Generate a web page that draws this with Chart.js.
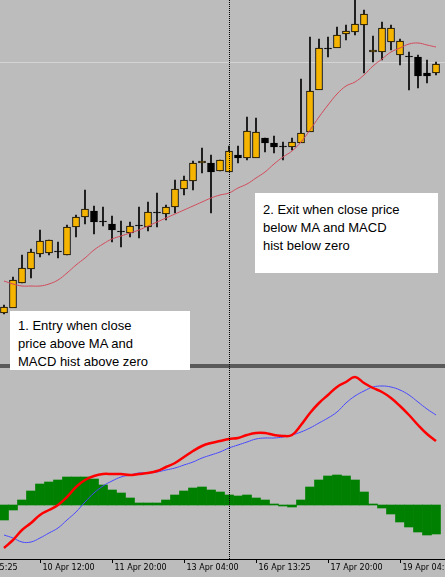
<!DOCTYPE html>
<html><head><meta charset="utf-8">
<script src="https://cdn.jsdelivr.net/npm/chart.js@4/dist/chart.umd.min.js"></script>
<style>
html,body{margin:0;padding:0;background:#bcbcbc;width:445px;height:579px;overflow:hidden;position:relative;font-family:"Liberation Sans",Arial,sans-serif}
#c1{position:absolute;left:0;top:0}
#c2{position:absolute;left:0;top:368px}
.sep{position:absolute;left:0;top:364px;width:445px;height:4px;background:#5a5a5a}
.hl{position:absolute;left:0;top:62px;width:445px;height:1px;background:#d4d4d4}
.vl{position:absolute;left:229px;top:0;height:559px;border-left:1px dotted #000}
.box{position:absolute;background:#fff;font-size:13px;line-height:18px;color:#000;padding:6px 8px;box-sizing:border-box}
</style></head><body>
<div class="hl"></div>
<canvas id="c1" width="445" height="364"></canvas>
<div class="sep"></div>
<canvas id="c2" width="445" height="211"></canvas>
<div class="vl"></div>
<div class="box" style="left:10px;top:311px;width:180px;height:59px;">1. Entry when close<br>price above MA and<br>MACD hist above zero</div>
<div class="box" style="left:255px;top:193px;width:183px;height:80px;padding-top:8px">2. Exit when close price<br>below MA and MACD<br>hist below zero</div>
<script>
// price values (arbitrary units)
const opens  = [87,92,117,131,146,147,148,145,173,183,189,178,176,168,167,174,173,187,186,193,211,219,237,237,229,228,245,242,242,262,257,253,253,257,268,310,351,352,366,368,375,348,348,358,345,343,343,327,327];
const closes = [93,120,132,148,159,160,148,173,183,191,178,178,170,168,174,174,188,187,193,211,220,237,239,228,240,249,242,269,268,257,253,253,258,267,309,352,351,365,369,376,386,350,372,372,359,343,324,324,336];
const highs  = [95,123,145,151,170,160,158,175,185,210,194,193,184,179,178,193,198,207,195,220,224,239,252,245,240,254,254,283,282,262,264,258,262,321,363,361,363,373,375,400,390,364,378,375,361,348,345,340,338];
const lows   = [86,117,117,122,143,145,142,145,163,176,166,174,158,153,163,162,169,173,180,187,205,210,227,187,229,240,237,240,248,248,247,240,250,260,308,340,343,357,360,365,327,338,340,350,335,310,312,317,325];
const ma     = [119,116,114,114,114,116,120,127,135,142,150,156,161,164,167,170,174,178,182,186,190,194,198,202,205,207,212,216,222,228,236,243,249,258,270,283,295,306,314,318,325,334,341,348,352,356,357,355,353];
// MACD panel
const hist   = [-15,-5,5,14,21,23,25,28,28,28,26,20,15,12,7,2,2,2,5,10,14,17,18,15,13,10,9,10,7,5,1,-1,-2,5,18,25,29,30,29,25,13,1,-3,-9,-17,-22,-27,-30,-29];
const macd   = [-43,-35,-25,-18,-10,-5,0,8,18,25,29,31,31,31,30,31,32,34,38,42,48,54,59,62,64,66,67,70,72,72,70,69,70,80,92,102,110,118,123,128,122,117,113,107,99,90,80,71,64];
const signal = [-30,-33,-37,-37,-33,-28,-23,-15,-7,3,12,19,24,28,30,32,32,33,35,37,40,43,47,50,53,57,60,63,66,67,67,68,70,73,77,82,87,93,102,109,114,118,119,118,115,110,103,96,90];
const tickIdx = [-4,4,12,20,28,36,44];
const tickLabels = ["9 Apr 05:25","10 Apr 12:00","11 Apr 20:00","13 Apr 04:00","16 Apr 13:25","17 Apr 20:00","19 Apr 04:00"];

const idx = opens.map((_,i)=>i);
const XMIN=-0.444, XMAX=49.0;
const xScale={type:'linear',min:XMIN,max:XMAX,display:false,offset:false};

const wick = idx.map(i=>({x:i,y:[lows[i],highs[i]]}));
const body = idx.map(i=>{let o=opens[i],c=closes[i]; if(Math.abs(o-c)<1){c=o+1;} return {x:i,y:[o,c]};});
const bodyColor = idx.map(i=>closes[i]-opens[i]>=2?'#f5b400':'#000');

new Chart(document.getElementById('c1'),{
  data:{datasets:[
    {type:'line',data:idx.map(i=>({x:i,y:ma[i]})),borderColor:'#d24a5a',borderWidth:1,pointRadius:0,tension:0.4,order:0},
    {type:'bar',data:body,backgroundColor:bodyColor,borderColor:'#000',borderWidth:1,borderSkipped:false,barThickness:7,grouped:false,order:1},
    {type:'bar',data:wick,backgroundColor:'#000',barThickness:1,grouped:false,order:2}
  ]},
  options:{responsive:false,animation:false,layout:{padding:0},
    plugins:{legend:{display:false},tooltip:{enabled:false}},
    scales:{x:xScale,y:{min:36,max:400,display:false}}}
});

const xlab={id:'xlab',afterDraw(ch){
  const c=ch.ctx,xs=ch.scales.x,b=ch.chartArea.bottom;
  c.save();c.strokeStyle='#000';c.fillStyle='#000';c.font='8px "DejaVu Sans",sans-serif';
  c.textAlign='left';c.textBaseline='top';
  c.beginPath();c.moveTo(0,b+0.5);c.lineTo(445,b+0.5);c.stroke();
  tickIdx.forEach((t,k)=>{const px=Math.round(xs.getPixelForValue(t))+0.5;
    c.beginPath();c.moveTo(px,b);c.lineTo(px,b+4);c.stroke();
    c.fillText(tickLabels[k],px+2,b+5);});
  c.fillStyle='#fff';c.fillRect(0,209,445,2);
  c.restore();}};

new Chart(document.getElementById('c2'),{
  data:{datasets:[
    {type:'line',data:idx.map(i=>({x:i,y:macd[i]})),borderColor:'#ff0000',borderWidth:2.5,pointRadius:0,tension:0.4,order:0},
    {type:'line',data:idx.map(i=>({x:i,y:signal[i]})),borderColor:'#4848ff',borderWidth:1,pointRadius:0,tension:0.4,order:1},
    {type:'bar',data:idx.map(i=>({x:i,y:hist[i]})),backgroundColor:'#008000',barThickness:9,grouped:false,order:2}
  ]},
  options:{responsive:false,animation:false,layout:{padding:{bottom:20}},
    plugins:{legend:{display:false},tooltip:{enabled:false}},
    scales:{x:xScale,y:{min:-54,max:137,display:false}}},
  plugins:[xlab]
});
</script>
</body></html>
